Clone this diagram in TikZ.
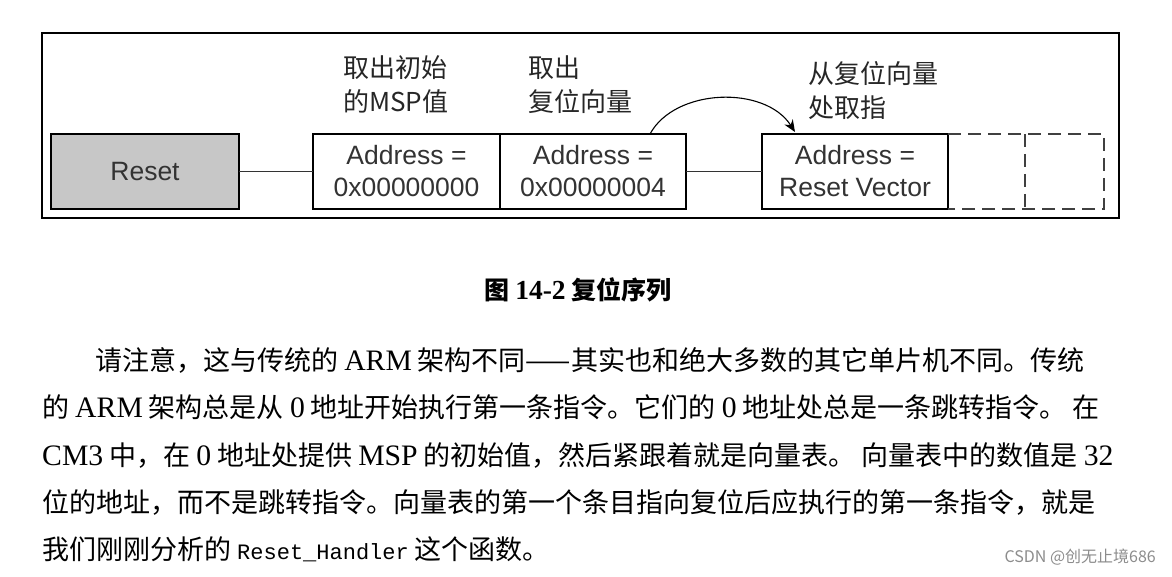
\documentclass[tikz,border=0pt]{standalone}
\usepackage{fontspec}
\setmainfont{Noto Sans CJK SC}
\newfontfamily\tnr[Scale=1.1]{Liberation Serif}
\newfontfamily\arial{Liberation Sans}
\newfontfamily\cour{Liberation Mono}
\newcommand\lat[1]{{\tnr #1}}
\usetikzlibrary{arrows.meta}
\begin{document}
\begin{tikzpicture}[x=1pt,y=1pt,
  bx/.style={draw,line width=1.1pt,inner sep=0,outer sep=0,minimum height=75pt,align=center,font=\arial\fontsize{26.5}{32}\selectfont,text=black!80},
  lbl/.style={anchor=north west,align=left,inner sep=0,font=\fontsize{26}{34}\selectfont,text=black!85},
  para/.style={anchor=west,inner sep=0,font=\fontsize{27}{30}\selectfont},
  dsh/.style={line width=1.5pt,dash pattern=on 13pt off 7pt,black!75}]
\useasboundingbox (0,0) rectangle (1172,-577);
\node[draw,line width=1.3pt,minimum width=1077pt,minimum height=185pt,inner sep=0] (frame) at (580.5,-125.5) {};
\node[bx,fill=black!22,minimum width=188pt] (reset) at (145,-171.5) {Reset};
\node[bx,minimum width=187pt] (b1) at (406.5,-171.5) {Address =\\0x00000000};
\node[bx,minimum width=186pt] (b2) at (593,-171.5) {Address =\\0x00000004};
\node[bx,minimum width=186pt] (b3) at (855,-171.5) {Address =\\Reset Vector};
\coordinate (d1) at (1025,-134);
\coordinate (d2) at (1025,-209);
\coordinate (d3) at (1104,-134);
\coordinate (d4) at (1104,-209);
\draw[dsh] (b3.north east) -- (d3) -- (d4) -- (b3.south east);
\draw[dsh] (d1) -- (d2);
\draw[line width=1.1pt,black!80] (reset) -- (b1);
\draw[line width=1.1pt,black!80] (b2) -- (b3);
\coordinate (s) at (650,-134);
\coordinate (e) at (795,-132);
\draw[line width=1.1pt,-{Stealth[length=12pt,width=10pt]}] (s) .. controls (675,-88) and (765,-85) .. (e);
\node[lbl] (l1) at (343,-55) {取出初始\\的MSP值};
\node[lbl] (l2) at (528,-55) {取出\\复位向量};
\node[lbl] (l3) at (808,-61) {从复位向量\\处取指};
\node[font=\bfseries\fontsize{25}{28}\selectfont,inner sep=0] (cap) at (578,-290) {图 \lat{\bfseries 14-2} 复位序列};
\node[para] (p1) at (95,-360) {请注意，这与传统的 \lat{ARM} 架构不同——其实也和绝大多数的其它单片机不同。传统};
\node[para] (p2) at (42,-407) {的 \lat{ARM} 架构总是从 \lat{0} 地址开始执行第一条指令。它们的 \lat{0} 地址处总是一条跳转指令。 在};
\node[para] (p3) at (42,-455) {\lat{CM3} 中，在 \lat{0} 地址处提供 \lat{MSP} 的初始值，然后紧跟着就是向量表。 向量表中的数值是 \lat{32}};
\node[para] (p4) at (42,-502) {位的地址，而不是跳转指令。向量表的第一个条目指向复位后应执行的第一条指令，就是};
\node[para] (p5) at (42,-549) {我们刚刚分析的 {\cour\fontsize{22}{24}\selectfont Reset\_Handler} 这个函数。};
\node[anchor=east,inner sep=0,font=\fontsize{16}{18}\selectfont,text=black!45] (wm) at (1156,-557) {CSDN @创无止境686};
\end{tikzpicture}
\end{document}
